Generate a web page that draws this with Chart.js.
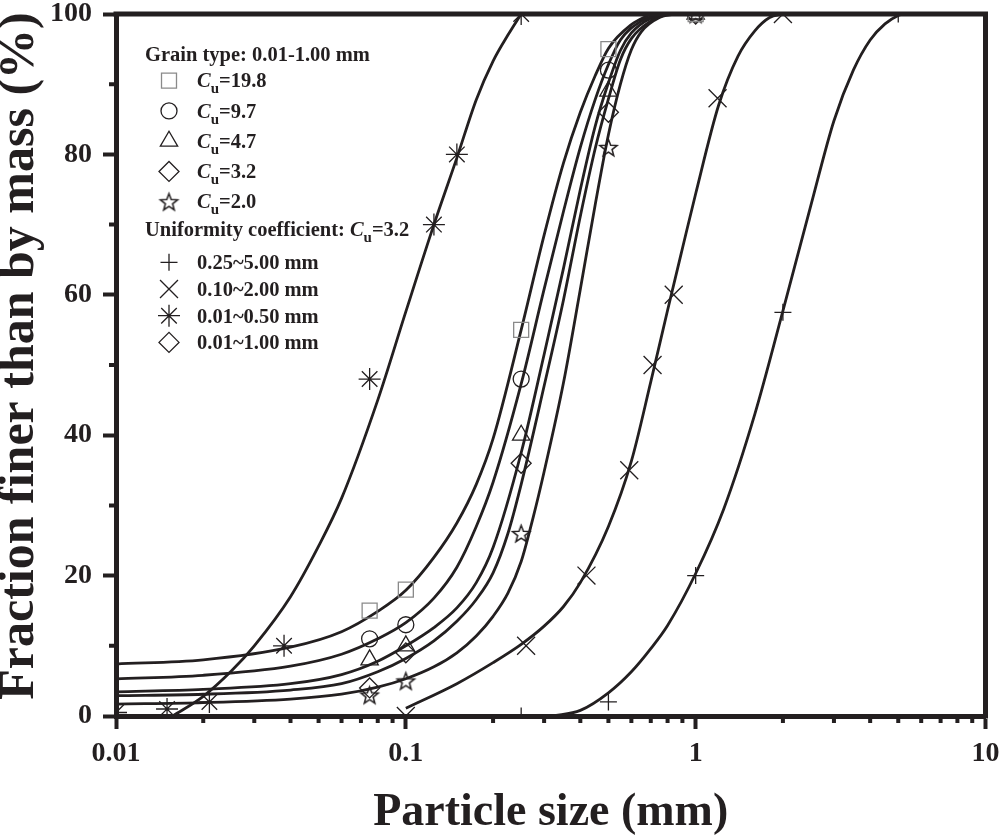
<!DOCTYPE html>
<html>
<head>
<meta charset="utf-8">
<script src="https://cdn.jsdelivr.net/npm/chart.js@4.4.1/dist/chart.umd.min.js"></script>
<style>
    html, body { margin: 0; padding: 0; background: #fff; }
    #wrap { width: 1000px; height: 839px; position: relative; }
</style>
</head>
<body>
<div id="wrap"><canvas id="psd"></canvas></div>
<script>
// Sieve results, grain type 0.01-1.00 mm
const grainSizes = [0.075, 0.1, 0.25, 0.5, 1];
const cu198 = [15, 18, 55, 95, 100];
const cu97 = [11, 13, 48, 92, 100];
const cu47 = [8, 10, 40, 89, 100];
const cu32 = [4, 9, 36, 86, 100];
const cu20 = [3, 5, 26, 81, 100];

// Sieve results, Cu = 3.2
const fineSizes = [0.01, 0.015, 0.021, 0.038, 0.075, 0.125, 0.15, 0.25];
const fineFrac = [0.5, 1, 2, 10, 48, 70, 80, 100];
const midSizes = [0.1, 0.26, 0.42, 0.59, 0.71, 0.84, 1.19, 2];
const midFrac = [0, 10, 20, 35, 50, 60, 88, 100];
const coarseSizes = [0.25, 0.5, 1, 2, 5];
const coarseFrac = [0, 2, 20, 57.5, 100];

// Fitted curves
const fit198X = [0.01, 0.02, 0.04, 0.06, 0.08, 0.1, 0.125, 0.15, 0.175, 0.2, 0.25, 0.3, 0.35, 0.4, 0.45, 0.5, 0.6, 0.7];
const fit198Y = [7.4, 8.0, 9.8, 12.0, 14.9, 17.9, 22.6, 27.5, 33.0, 39.5, 55.0, 68.5, 78.8, 86.0, 91.2, 95.1, 98.5, 100];
const fit97X = [0.01, 0.02, 0.04, 0.06, 0.08, 0.1, 0.125, 0.15, 0.175, 0.2, 0.25, 0.3, 0.35, 0.4, 0.45, 0.5, 0.55, 0.65, 0.75];
const fit97Y = [5.3, 5.8, 7.1, 8.8, 11.0, 13.3, 16.8, 21.2, 27.0, 33.3, 47.3, 60.8, 71.9, 81.0, 87.8, 92.8, 96.3, 99.0, 100];
const fit47X = [0.01, 0.02, 0.04, 0.06, 0.08, 0.1, 0.125, 0.15, 0.175, 0.2, 0.25, 0.3, 0.35, 0.4, 0.45, 0.5, 0.55, 0.6, 0.7, 0.8];
const fit47Y = [3.45, 3.8, 4.6, 5.9, 7.8, 10.0, 12.6, 15.4, 19.0, 24.0, 37.5, 51.5, 63.8, 75.0, 84.0, 90.2, 94.8, 97.3, 99.4, 100];
const fit32X = [0.01, 0.02, 0.04, 0.06, 0.08, 0.1, 0.125, 0.15, 0.175, 0.2, 0.225, 0.25, 0.3, 0.35, 0.4, 0.45, 0.5, 0.55, 0.6, 0.7, 0.8];
const fit32Y = [2.9, 3.1, 3.7, 4.6, 6.3, 8.2, 10.7, 13.5, 16.6, 20.4, 26.0, 33.0, 47.0, 59.3, 71.2, 80.8, 87.9, 93.5, 96.5, 99.0, 100];
const fit20X = [0.01, 0.02, 0.04, 0.06, 0.08, 0.1, 0.125, 0.15, 0.175, 0.2, 0.225, 0.25, 0.275, 0.3, 0.35, 0.4, 0.45, 0.5, 0.55, 0.6, 0.65, 0.75, 0.85];
const fit20Y = [1.7, 1.9, 2.4, 3.1, 4.1, 5.3, 7.0, 9.0, 11.4, 14.2, 17.5, 22.0, 28.3, 34.8, 47.5, 60.8, 72.8, 82.8, 90.0, 94.9, 97.5, 99.5, 100];
const fitFineX = [0.0157, 0.02, 0.025, 0.03, 0.04, 0.05, 0.06, 0.08, 0.1, 0.125, 0.15, 0.175, 0.2, 0.225, 0.25];
const fitFineY = [0, 2.8, 6.4, 10.0, 17.0, 24.2, 31.0, 45.0, 57.6, 70.0, 79.5, 87.8, 93.3, 97.0, 100];
const fitMidX = [0.1, 0.15, 0.2, 0.25, 0.3, 0.35, 0.4, 0.5, 0.6, 0.7, 0.8, 0.9, 1.0, 1.2, 1.4, 1.6, 1.8, 2.0];
const fitMidY = [1.1, 4.6, 7.6, 10.2, 12.8, 15.6, 19.0, 27.0, 36.3, 47.6, 57.8, 66.6, 74.4, 87.0, 94.0, 97.6, 99.5, 100];
const fitCoarseX = [0.32, 0.4, 0.5, 0.6, 0.7, 0.8, 1.0, 1.25, 1.6, 2.0, 2.5, 3.0, 3.5, 4.0, 4.5, 5.0, 5.2];
const fitCoarseY = [0, 0.8, 3.3, 6.3, 9.6, 12.9, 20.3, 29.5, 43.0, 57.7, 72.8, 84.8, 92.0, 96.3, 98.6, 99.8, 100];

// Tick labels and legend texts
const xTickLabels = ["0.01", "0.1", "1", "10"];
const yTickLabels = ["0", "20", "40", "60", "80", "100"];
const grainLegend = ["19.8", "9.7", "4.7", "3.2", "2.0"];
const rangeLegend = ["0.25~5.00 mm", "0.10~2.00 mm", "0.01~0.50 mm", "0.01~1.00 mm"];
const yTitle = "Fraction finer than by mass (%)";

const ink = "#231f20";
const clear = "rgba(0,0,0,0)";
const serif = '"Liberation Serif", "Times New Roman", serif';

// Outline five point star for Cu=2.0
function makeStar(r, lw) {
    const s = Math.ceil(2 * r + 2 * lw + 2);
    const c = document.createElement("canvas");
    c.width = s;
    c.height = s;
    const g = c.getContext("2d");
    g.translate(s / 2, s / 2 + r * 0.1);
    g.beginPath();
    for (let i = 0; i < 10; i++) {
        const rr = i % 2 === 0 ? r : r * 0.42;
        const a = -Math.PI / 2 + i * Math.PI / 5;
        if (i === 0) g.moveTo(rr * Math.cos(a), rr * Math.sin(a));
        else g.lineTo(rr * Math.cos(a), rr * Math.sin(a));
    }
    g.closePath();
    g.lineWidth = lw;
    g.strokeStyle = ink;
    g.stroke();
    return c;
}

const mkSquare = { style: "rect", r: 10.6, color: "#8a8a8a" };
const mkCircle = { style: "circle", r: 8, color: ink };
const mkTriangle = { style: "triangle", r: 10, color: ink };
const mkDiamond = { style: "rectRot", r: 10, color: ink };
const mkStar = { style: makeStar(9, 1.5), r: 9, color: ink };
const mkPlus = { style: "cross", r: 8.5, color: ink };
const mkCross = { style: "crossRot", r: 12.7, color: ink };
const mkAster = { style: "star", r: 11, color: ink };

function pts(xs, ys) {
    return xs.map((x, i) => ({ x: x, y: ys[i] }));
}

function fitLine(label, xs, ys) {
    return {
        label: label,
        data: pts(xs, ys),
        showLine: true,
        borderColor: ink,
        borderWidth: 2.8,
        pointRadius: 0,
        cubicInterpolationMode: "monotone",
        clip: 0,
        order: 2,
    };
}

function marks(label, xs, ys, mk) {
    return {
        label: label,
        data: pts(xs, ys),
        showLine: false,
        pointStyle: mk.style,
        pointRadius: mk.r,
        pointBorderWidth: 1.3,
        pointBorderColor: mk.color,
        pointBackgroundColor: clear,
        clip: 0,
        order: 1,
    };
}

function isDecade(v) {
    const l = Math.log10(v);
    return Math.abs(l - Math.round(l)) < 1e-6;
}

function isWholeStep(v) {
    const m = v / Math.pow(10, Math.floor(Math.log10(v) + 1e-9));
    return Math.abs(m - Math.round(m)) < 1e-6;
}

// Short minor ticks, the top and right frame, and the y title
const framePlugin = {
    id: "frame",
    afterDraw(chart) {
        const { ctx, chartArea: a, scales } = chart;
        ctx.save();
        ctx.strokeStyle = ink;
        ctx.lineWidth = 4;
        ctx.beginPath();
        scales.x.ticks.forEach((t) => {
            if (!isDecade(t.value) && isWholeStep(t.value)) {
                const px = scales.x.getPixelForValue(t.value);
                ctx.moveTo(px, a.bottom);
                ctx.lineTo(px, a.bottom + 7);
            }
        });
        scales.y.ticks.forEach((t) => {
            if (t.value % 20 !== 0) {
                const py = scales.y.getPixelForValue(t.value);
                ctx.moveTo(a.left, py);
                ctx.lineTo(a.left - 7, py);
            }
        });
        ctx.stroke();
        ctx.lineWidth = 5;
        ctx.lineCap = "square";
        ctx.beginPath();
        ctx.moveTo(a.left, a.top);
        ctx.lineTo(a.right, a.top);
        ctx.lineTo(a.right, a.bottom);
        ctx.stroke();

        // y title, sized to run from y=705 up to y=7
        ctx.font = "bold 50px " + serif;
        const w = ctx.measureText(yTitle).width;
        const size = Math.min(50, 50 * 698 / w);
        ctx.font = "bold " + size.toFixed(2) + "px " + serif;
        ctx.translate(33, 356);
        ctx.rotate(-Math.PI / 2);
        ctx.fillStyle = ink;
        ctx.textAlign = "center";
        ctx.textBaseline = "alphabetic";
        ctx.fillText(yTitle, 0, 0);
        ctx.restore();
    },
};

// Text with italic C and subscript u
function drawRich(ctx, parts, x, y) {
    parts.forEach((p) => {
        if (p.sub) {
            ctx.font = "bold 15px " + serif;
            ctx.fillText(p.t, x, y + 6);
        } else {
            ctx.font = (p.it ? "italic " : "") + "bold 20.5px " + serif;
            ctx.fillText(p.t, x, y);
        }
        x += ctx.measureText(p.t).width;
    });
}

function drawSymbol(ctx, mk, x, y) {
    ctx.save();
    ctx.strokeStyle = mk.color;
    ctx.fillStyle = clear;
    ctx.lineWidth = 1.3;
    Chart.helpers.drawPoint(ctx, { pointStyle: mk.style, radius: mk.r, rotation: 0, borderWidth: 1.3 }, x, y);
    ctx.restore();
}

const legendPlugin = {
    id: "psdLegend",
    afterDraw(chart) {
        const ctx = chart.ctx;
        const grainMarks = [mkSquare, mkCircle, mkTriangle, mkDiamond, mkStar];
        const rangeMarks = [mkPlus, mkCross, mkAster, mkDiamond];
        ctx.save();
        ctx.fillStyle = ink;
        ctx.textAlign = "left";
        ctx.textBaseline = "alphabetic";
        drawRich(ctx, [{ t: "Grain type: 0.01-1.00 mm" }], 145, 60.7);
        grainLegend.forEach((lab, i) => {
            const base = 87.3 + i * 30.25;
            drawSymbol(ctx, grainMarks[i], 169, base - 6.6);
            ctx.fillStyle = ink;
            drawRich(ctx, [{ t: "C", it: true }, { t: "u", sub: true }, { t: "=" + lab }], 197, base);
        });
        drawRich(ctx, [{ t: "Uniformity coefficient: " }, { t: "C", it: true }, { t: "u", sub: true }, { t: "=3.2" }], 145, 236);
        rangeLegend.forEach((lab, i) => {
            const base = 269.3 + i * 26.7;
            drawSymbol(ctx, rangeMarks[i], 169, base - 7);
            ctx.fillStyle = ink;
            drawRich(ctx, [{ t: lab }], 197, base);
        });
        ctx.restore();
    },
};

const psdChart = new Chart(document.getElementById("psd"), {
    type: "scatter",
    data: {
        datasets: [
            fitLine("fit Cu=19.8", fit198X, fit198Y),
            fitLine("fit Cu=9.7", fit97X, fit97Y),
            fitLine("fit Cu=4.7", fit47X, fit47Y),
            fitLine("fit Cu=3.2", fit32X, fit32Y),
            fitLine("fit Cu=2.0", fit20X, fit20Y),
            fitLine("fit 0.01~0.50 mm", fitFineX, fitFineY),
            fitLine("fit 0.10~2.00 mm", fitMidX, fitMidY),
            fitLine("fit 0.25~5.00 mm", fitCoarseX, fitCoarseY),
            marks("Cu=19.8", grainSizes, cu198, mkSquare),
            marks("Cu=9.7", grainSizes, cu97, mkCircle),
            marks("Cu=4.7", grainSizes, cu47, mkTriangle),
            marks("Cu=3.2", grainSizes, cu32, mkDiamond),
            marks("Cu=2.0", grainSizes, cu20, mkStar),
            marks("0.01~0.50 mm", fineSizes, fineFrac, mkAster),
            marks("0.10~2.00 mm", midSizes, midFrac, mkCross),
            marks("0.25~5.00 mm", coarseSizes, coarseFrac, mkPlus),
        ],
    },
    options: {
        responsive: true,
        maintainAspectRatio: false,
        animation: false,
        events: [],
        layout: { padding: { left: 0, top: 12, right: 14.5, bottom: 0 } },
        plugins: { legend: { display: false }, tooltip: { enabled: false } },
        scales: {
            x: {
                type: "logarithmic",
                min: 0.01,
                max: 10,
                afterFit(s) {
                    s.height = 123;
                    s.paddingLeft = 0;
                    s.paddingRight = 0;
                },
                border: { display: true, width: 5, color: ink, z: 1 },
                grid: {
                    drawOnChartArea: false,
                    tickLength: 13,
                    tickWidth: 4,
                    tickColor: (c) => (c.tick && isDecade(c.tick.value) ? ink : clear),
                    z: 1,
                },
                ticks: {
                    autoSkip: false,
                    maxRotation: 0,
                    padding: 8,
                    color: ink,
                    font: { family: serif, size: 28, weight: "bold" },
                    callback: (v) => (xTickLabels.includes(String(v)) ? String(v) : ""),
                },
                title: {
                    display: true,
                    text: "Particle size (mm)",
                    color: ink,
                    font: { family: serif, size: 46, weight: "bold", lineHeight: 1 },
                    padding: { top: 0, bottom: 3 },
                },
            },
            y: {
                min: 0,
                max: 100,
                afterFit(s) {
                    s.width = 116;
                    s.paddingTop = 0;
                    s.paddingBottom = 0;
                },
                border: { display: true, width: 5, color: ink, z: 1 },
                grid: {
                    drawOnChartArea: false,
                    tickLength: 13,
                    tickWidth: 4,
                    tickColor: (c) => (c.tick && c.tick.value % 20 === 0 ? ink : clear),
                    z: 1,
                },
                ticks: {
                    stepSize: 10,
                    padding: 11,
                    color: ink,
                    font: { family: serif, size: 28, weight: "bold" },
                    callback: (v) => (yTickLabels.includes(String(v)) ? String(v) : ""),
                },
            },
        },
    },
    plugins: [framePlugin, legendPlugin],
});
</script>
</body>
</html>
